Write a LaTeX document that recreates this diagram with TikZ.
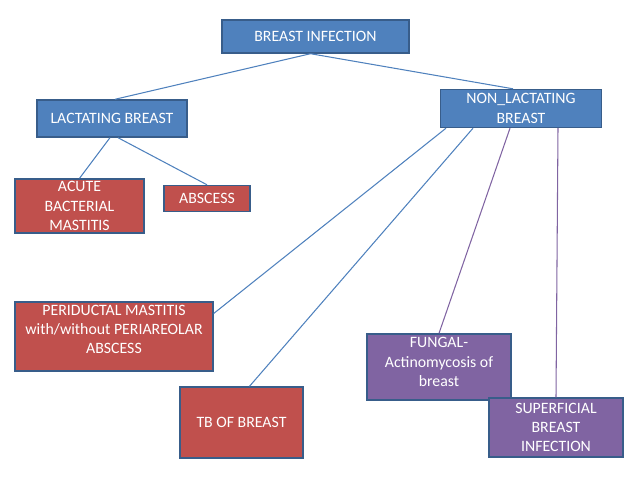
\documentclass[tikz,border=0pt]{standalone}
\usepackage{fontspec}
\setmainfont{Carlito}
\usepackage{tikz}
\usetikzlibrary{calc}
\usepackage{xcolor}
\definecolor{boxblue}{HTML}{4F81BD}
\definecolor{boxred}{HTML}{C0504D}
\definecolor{boxpurple}{HTML}{8064A2}
\definecolor{edgeblue}{HTML}{385D8A}

\tikzset{
    catbox/.style={draw=edgeblue, line width=1.2pt, text=white, align=center,
        inner sep=0pt, font=\fontsize{13.5}{16.5}\selectfont},
    link/.style={line width=0.9pt, color=boxblue},
    plink/.style={line width=0.9pt, color=boxpurple}
}

\begin{document}
\begin{tikzpicture}[x=0.03cm, y=-0.03cm]
    \useasboundingbox (0,0) rectangle (638,478);

    % Top
    \node[catbox, fill=boxblue, minimum width=187*0.03cm, minimum height=33*0.03cm] (infection) at (315.5,36.5) {BREAST INFECTION};

    % Second row
    \node[catbox, fill=boxblue, minimum width=150*0.03cm, minimum height=37*0.03cm] (lactating) at (112,118.5) {LACTATING BREAST};
    \node[catbox, fill=boxblue, minimum width=161*0.03cm, minimum height=38*0.03cm] (nonlactating) at (521,108.5) {NON\_LACTATING\\BREAST};

    % Lactating branch
    \node[catbox, fill=boxred, minimum width=129*0.03cm, minimum height=54*0.03cm] (acute) at (79.5,206) {ACUTE\\BACTERIAL\\MASTITIS};
    \node[catbox, fill=boxred, minimum width=86*0.03cm, minimum height=26*0.03cm] (abscess) at (207,198.5) {ABSCESS};

    % Non lactating branch
    \node[catbox, fill=boxred, minimum width=198*0.03cm, minimum height=69*0.03cm, text depth=0.42cm] (periductal) at (114,336.5) {PERIDUCTAL MASTITIS\\with/without PERIAREOLAR\\ABSCESS};
    \node[catbox, fill=boxred, minimum width=123*0.03cm, minimum height=71*0.03cm] (tb) at (241.5,422.5) {TB OF BREAST};
    \node[catbox, fill=boxpurple, minimum width=144*0.03cm, minimum height=66*0.03cm, text depth=0.3cm] (fungal) at (439,367) {FUNGAL-\\Actinomycosis of\\breast};
    \node[catbox, fill=boxpurple, minimum width=134*0.03cm, minimum height=59*0.03cm] (superficial) at (556,427.5) {SUPERFICIAL\\BREAST\\INFECTION};

    % Connectors
    \draw[link] ($(infection.south)+(-5,0)$) -- ($(lactating.north)+(3,0)$);
    \draw[link] ($(infection.south)+(-5,0)$) -- ($(nonlactating.north)+(-8,0)$);
    \draw[link] ($(lactating.south)+(-2,0)$) -- (acute.north);
    \draw[link] ($(lactating.south)+(6,0)$) -- (abscess.north);
    \draw[link] ($(nonlactating.south)+(-75,0)$) -- ($(periductal.east)+(0,-23)$);
    \draw[link] ($(nonlactating.south)+(-48,0)$) -- ($(tb.north)+(8,0)$);
    \draw[plink] ($(nonlactating.south)+(-11,0)$) -- (fungal.north);
    \draw[plink] ($(nonlactating.south)+(37,0)$) -- (superficial.north);
\end{tikzpicture}
\end{document}
